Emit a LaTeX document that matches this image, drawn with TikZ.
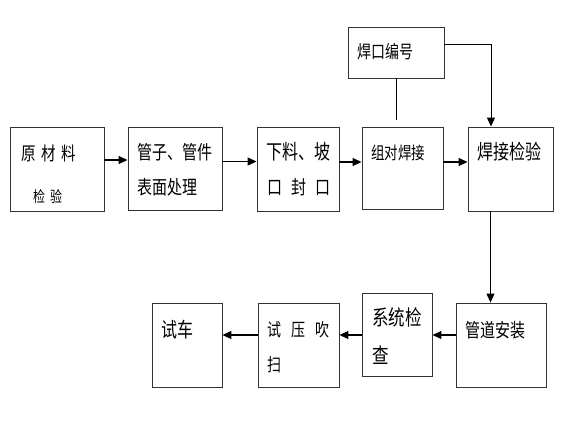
\documentclass[tikz,border=0pt]{standalone}
\usepackage{fontspec}
\usepackage{graphicx}
\setmainfont{Noto Sans CJK SC}
\usetikzlibrary{arrows.meta}
\newcommand{\fs}[1]{\fontsize{#1}{#1}\selectfont}
\newcommand{\tall}[1]{\scalebox{1}[1.28]{#1}}
\begin{document}
\begin{tikzpicture}[
  x=1pt, y=-1pt,
  box/.style={draw=black!80, line width=0.9pt, inner sep=0pt},
  txt/.style={anchor=west, inner sep=0pt, text=black},
  arr/.style={-{Triangle[length=9pt,width=8pt]}, line width=1.2pt},
]
\useasboundingbox (0,0) rectangle (576,432);
% upper row
\node[box, minimum width=94, minimum height=84] (raw) at (57,169) {};
\node[box, minimum width=94, minimum height=83] (surf) at (175,168.5) {};
\node[box, minimum width=82, minimum height=84] (cut) at (298,169) {};
\node[box, minimum width=81, minimum height=82] (pair) at (402.5,168) {};
\node[box, minimum width=85, minimum height=84] (chk) at (510.5,169) {};
\node[box, minimum width=96, minimum height=51] (num) at (396,52.5) {};
% lower row
\node[box, minimum width=70, minimum height=84] (car) at (187,345) {};
\node[box, minimum width=81, minimum height=84] (press) at (298.5,345) {};
\node[box, minimum width=70, minimum height=83] (sys) at (397,334.5) {};
\node[box, minimum width=90, minimum height=84] (inst) at (501,345) {};
% texts
\node[txt, font=\fs{14.5}] (raw1) at (21,153) {\tall{原\hspace{5.5pt}材\hspace{5.5pt}料}};
\node[txt, font=\fs{12}] (raw2) at (33,197) {\tall{检\hspace{5pt}验}};
\node[txt, font=\fs{15}] (surf1) at (137,152) {\tall{管子、管件}};
\node[txt, font=\fs{15}] (surf2) at (137,187) {\tall{表面处理}};
\node[txt, font=\fs{16}] (cut1) at (266,152) {\tall{下料、坡}};
\node[txt, font=\fs{15}] (cut2) at (267,187) {\tall{口\hspace{9pt}封\hspace{9pt}口}};
\node[txt, font=\fs{13.5}] (pair1) at (371,153) {\tall{组对焊接}};
\node[txt, font=\fs{16}] (chk1) at (477,152) {\tall{焊接检验}};
\node[txt, font=\fs{14}] (num1) at (357,52) {\tall{焊口编号}};
\node[txt, font=\fs{16}] (car1) at (161,330) {\tall{试车}};
\node[txt, font=\fs{14}] (press1) at (267,330) {\tall{试\hspace{10pt}压\hspace{10pt}吹}};
\node[txt, font=\fs{14}] (press2) at (267,365) {\tall{扫}};
\node[txt, font=\fs{16.5}] (sys1) at (372,317) {\tall{系统检}};
\node[txt, font=\fs{16.5}] (sys2) at (372,355) {\tall{查}};
\node[txt, font=\fs{15}] (inst1) at (465,330) {\tall{管道安装}};
% connectors
\draw[arr] ([yshift=9]raw.east) -- ([yshift=9]raw.east -| surf.west);
\draw[arr] ([yshift=7]surf.east) -- ([yshift=7]surf.east -| cut.west);
\draw[arr] ([yshift=7]cut.east) -- ([yshift=7]cut.east -| pair.west);
\draw[arr] ([yshift=6]pair.east) -- ([yshift=6]pair.east -| chk.west);
\draw[line width=1pt, shorten >=7pt] (num.south) -- (num.south |- pair.north);
\draw[arr, line width=1pt] ([yshift=8.5]num.east) -| ([xshift=-19.5]chk.north);
\draw[arr, line width=1pt] ([xshift=-20]chk.south) -- ([xshift=-20]chk.south |- inst.north);
\draw[arr] ([yshift=10]inst.west) -- ([yshift=10]inst.west -| sys.east);
\draw[arr] ([yshift=-0.5]sys.west) -- ([yshift=-0.5]sys.west -| press.east);
\draw[arr] ([yshift=10]press.west) -- ([yshift=10]press.west -| car.east);
\end{tikzpicture}
\end{document}
